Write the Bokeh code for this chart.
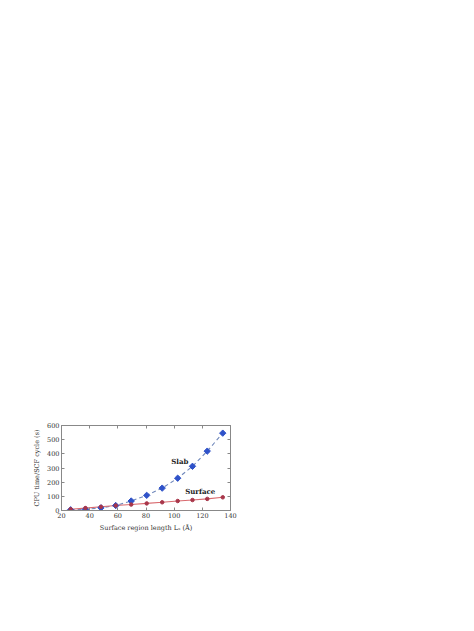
import math
from bokeh.plotting import figure
from bokeh.models import Range1d, LinearAxis, FixedTicker
from bokeh.embed import file_html
from bokeh.resources import INLINE
from bokeh.core.properties import value

length = [26.5, 37, 48, 58.5, 69.5, 80.5, 91.5, 102.5, 113, 123.5, 134.5]
slab = [5, 8, 19, 35, 67, 107, 158, 228, 312, 419, 546]
surface = [9, 17, 26, 35, 42, 50, 58, 67, 74, 82, 93]
x_ticks = [20, 40, 60, 80, 100, 120, 140]
y_ticks = [0, 100, 200, 300, 400, 500, 600]

FONT = "DejaVu Serif"
FS = "6.5px"

p = figure(width=458, height=615, output_backend="svg", toolbar_location=None,
           x_range=Range1d(20, 140), y_range=Range1d(0, 600),
           min_border_left=61, min_border_right=228, min_border_top=425,
           min_border_bottom=105)
p.grid.visible = False
p.outline_line_color = "#888888"
p.outline_line_width = 0.8

p.line(length, slab, line_color="#7088bb", line_dash="4 3", line_width=1.1)
p.line(length, surface, line_color="#d96a6f", line_width=1.1)
p.scatter(length, slab, marker="square", angle=math.pi / 4, size=4.5,
          fill_color="#2f52c9", line_color="#2f52c9")
p.scatter(length, surface, marker="circle", size=3.5, fill_color="#a8364a", line_color="#a8364a")

p.text(x=[104], y=[349], text=["Slab"], text_font=value(FONT), text_font_style="bold",
       text_font_size="7px", text_align="center", text_baseline="middle", text_color="#222222")
p.text(x=[118.5], y=[133], text=["Surface"], text_font=value(FONT), text_font_style="bold",
       text_font_size="7px", text_align="center", text_baseline="middle", text_color="#222222")

for ax in (p.xaxis[0], p.yaxis[0]):
    ax.major_label_text_font = FONT
    ax.major_label_text_font_size = FS
    ax.axis_label_text_font = FONT
    ax.axis_label_text_font_size = FS
    ax.axis_label_text_font_style = "normal"
    ax.major_tick_in = 3
    ax.major_tick_out = 0
    ax.minor_tick_in = 0
    ax.minor_tick_out = 0
    ax.axis_line_color = "#888888"
    ax.major_tick_line_color = "#888888"
    ax.major_label_standoff = 2
    ax.axis_label_standoff = 3
    ax.major_label_text_color = "#333333"
    ax.axis_label_text_color = "#333333"

p.xaxis[0].ticker = FixedTicker(ticks=x_ticks)
p.yaxis[0].ticker = FixedTicker(ticks=y_ticks)
p.xaxis[0].axis_label = "Surface region length Lₛ (Å)"
p.yaxis[0].axis_label = "CPU time/SCF cycle (s)"

top = LinearAxis(ticker=FixedTicker(ticks=x_ticks), major_label_text_color=None,
                 major_tick_in=3, major_tick_out=0, minor_tick_in=0, minor_tick_out=0,
                 axis_line_color="#888888", major_tick_line_color="#888888",
                 major_label_text_font_size="1px")
right = LinearAxis(ticker=FixedTicker(ticks=y_ticks), major_label_text_color=None,
                   major_tick_in=3, major_tick_out=0, minor_tick_in=0, minor_tick_out=0,
                   axis_line_color="#888888", major_tick_line_color="#888888",
                   major_label_text_font_size="1px")
p.add_layout(top, "above")
p.add_layout(right, "right")

open("out.html", "w").write(file_html(p, INLINE))
